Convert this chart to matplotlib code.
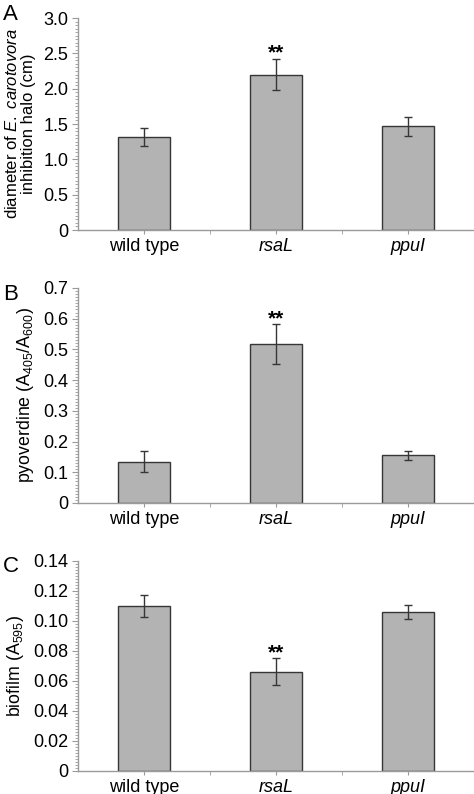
import matplotlib
matplotlib.use("Agg")
import matplotlib.pyplot as plt
from matplotlib.ticker import MultipleLocator, AutoMinorLocator, FuncFormatter

plt.rcParams["font.family"] = ["Liberation Sans", "DejaVu Sans"]
plt.rcParams["mathtext.fontset"] = "custom"
plt.rcParams["mathtext.rm"] = "Liberation Sans"
plt.rcParams["mathtext.it"] = "Liberation Sans:italic"

strains = ["wild type", "rsaL", "ppuI"]
italic = [False, True, True]

halo = [1.32, 2.20, 1.47]
halo_err = [0.125, 0.225, 0.135]

pyoverdine = [0.135, 0.518, 0.155]
pyoverdine_err = [0.035, 0.065, 0.014]

biofilm = [0.110, 0.066, 0.106]
biofilm_err = [0.0075, 0.009, 0.0048]

stars = ["", "**", ""]

# letter, values, errors, ymax, tick step, decimals, ylabel, ylabel size, axes rect, letter baseline (px from top)
panels = [
    ("A", halo, halo_err, 3.0, 0.5, 1,
     "diameter of $\\mathit{E.\\ carotovora}$\ninhibition halo (cm)", 12.0,
     [0.1646, 0.7103, 0.8354, 0.2670], 20),
    ("B", pyoverdine, pyoverdine_err, 0.7, 0.1, 1,
     "pyoverdine (A$_{405}$/A$_{600}$)", 12.8,
     [0.1646, 0.3665, 0.8354, 0.2708], 300),
    ("C", biofilm, biofilm_err, 0.14, 0.02, 2,
     "biofilm (A$_{595}$)", 12.8,
     [0.1646, 0.0290, 0.8354, 0.2645], 572),
]

fig = plt.figure(figsize=(4.74, 7.94), dpi=100)
spine_col = "#9a9a9a"

for letter, vals, errs, ymax, step, dec, ylab, ysize, pos, base in panels:
    ax = fig.add_axes(pos)
    x = range(len(strains))
    ax.bar(x, vals, width=0.4, color="#b3b3b3", edgecolor="#363636", linewidth=1.0, zorder=2)
    ax.errorbar(x, vals, yerr=errs, fmt="none", ecolor="#363636", elinewidth=1.0,
                capsize=3, capthick=1.0, zorder=3)
    for i, s in enumerate(stars):
        if s:
            ax.annotate(s, (i, vals[i] + errs[i]), xytext=(0, -3), textcoords="offset points",
                        ha="center", va="bottom", fontsize=15, fontweight="bold")
    ax.set_xlim(-0.5, len(strains) - 0.5)
    ax.set_ylim(0, ymax)
    ax.yaxis.set_major_locator(MultipleLocator(step))
    ax.yaxis.set_minor_locator(AutoMinorLocator(10))
    ax.yaxis.set_major_formatter(FuncFormatter(
        lambda v, p, d=dec: "0" if abs(v) < 1e-9 else f"{v:.{d}f}"))
    ax.set_xticks(list(x))
    ax.set_xticks([0.5, 1.5], minor=True)
    ax.set_xticklabels(strains)
    for lab, it in zip(ax.get_xticklabels(), italic):
        if it:
            lab.set_style("italic")
    ax.tick_params(axis="y", which="major", length=4, color=spine_col, labelsize=13, pad=3)
    ax.tick_params(axis="y", which="minor", length=2, color=spine_col)
    ax.tick_params(axis="x", which="both", length=3, color=spine_col, labelsize=13, pad=3)
    for side in ["top", "right"]:
        ax.spines[side].set_visible(False)
    for side in ["left", "bottom"]:
        ax.spines[side].set_color(spine_col)
        ax.spines[side].set_linewidth(1.0)
    ax.set_ylabel(ylab, fontsize=ysize, labelpad=5, linespacing=1.15)
    fig.text(0.006, 1 - base / 794, letter, fontsize=16, ha="left", va="baseline")

fig.savefig("out.png", dpi=100)
